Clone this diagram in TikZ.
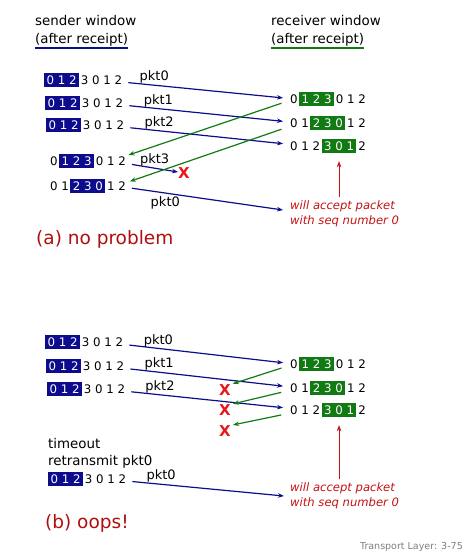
\documentclass[tikz,border=0pt]{standalone}
\usepackage{fontspec}
\setmainfont{DejaVu Sans}
\usepackage{xcolor}
\usetikzlibrary{positioning,arrows.meta}

\definecolor{sndblue}{RGB}{12,12,140}
\definecolor{rcvgreen}{RGB}{18,122,18}
\definecolor{lossred}{RGB}{232,24,24}
\definecolor{notered}{RGB}{196,18,18}
\definecolor{capred}{RGB}{176,14,14}
\definecolor{footgray}{RGB}{125,125,125}

\begin{document}
\begin{tikzpicture}[
  x=1pt, y=-1pt,
  >={Stealth[length=6pt,width=4.5pt]},
  hdr/.style={inner sep=0pt, font=\fontsize{13.4}{16}\selectfont},
  num/.style={inner sep=0pt, font=\fontsize{11.8}{14}\selectfont},
  swin/.style={num, fill=sndblue, text=white, minimum height=14pt, inner xsep=2.4pt},
  rwin/.style={num, fill=rcvgreen, text=white, minimum height=14pt, inner xsep=2.4pt},
  pkt/.style={inner sep=1pt, text=black, font=\fontsize{13}{15}\selectfont},
  lost/.style={text=lossred, inner sep=0pt, font=\fontsize{15}{15}\selectfont\bfseries},
  note/.style={text=notered, align=left, inner sep=0pt, font=\fontsize{11.6}{15}\selectfont\itshape},
  caption/.style={text=capred, inner sep=0pt, font=\fontsize{18.5}{20}\selectfont},
  data/.style={->, sndblue, line width=1.2pt, shorten <=6pt, shorten >=7pt},
  ack/.style={->, rcvgreen, line width=1.2pt, shorten <=9pt, shorten >=4pt},
  accept/.style={->, notered, line width=0.8pt, shorten <=3pt, shorten >=8pt},
]
\useasboundingbox (0,0) rectangle (474,555);

% Headers
\node[hdr, anchor=base west] (sndtop) at (35,25) {sender window};
\node[hdr, anchor=base west] (sndsub) at (35,43) {(after receipt)};
\node[hdr, anchor=base west] (rcvtop) at (271,25) {receiver window};
\node[hdr, anchor=base west] (rcvsub) at (271,43) {(after receipt)};
\draw[sndblue, line width=2pt] ([yshift=-2pt]sndsub.south west) -- ([yshift=-2pt]sndsub.south east);
\draw[rcvgreen, line width=2pt] ([yshift=-2pt]rcvsub.south west) -- ([yshift=-2pt]rcvsub.south east);

%%% (a) no problem

% Sender windows
\node[swin, anchor=west] (a1w) at (44,80) {0 1 2};
\node[num, right=1.5pt of a1w] (a1) {3 0 1 2};
\node[swin, anchor=west] (a2w) at (45,103) {0 1 2};
\node[num, right=1.5pt of a2w] (a2) {3 0 1 2};
\node[swin, anchor=west] (a3w) at (46,125) {0 1 2};
\node[num, right=1.5pt of a3w] (a3) {3 0 1 2};
\node[num, anchor=west] (a4pre) at (50,161) {0};
\node[swin, right=1pt of a4pre] (a4w) {1 2 3};
\node[num, right=1.5pt of a4w] (a4) {0 1 2};
\node[num, anchor=west] (a5pre) at (50,186) {0 1};
\node[swin, right=1pt of a5pre] (a5w) {2 3 0};
\node[num, right=1.5pt of a5w] (a5) {1 2};

% Receiver windows
\node[num, anchor=west] (ra1pre) at (290,99) {0};
\node[rwin, right=1pt of ra1pre] (ra1w) {1 2 3};
\node[num, right=1.5pt of ra1w] (ra1) {0 1 2};
\node[num, anchor=west] (ra2pre) at (290,123) {0 1};
\node[rwin, right=1pt of ra2pre] (ra2w) {2 3 0};
\node[num, right=1.5pt of ra2w] (ra2) {1 2};
\node[num, anchor=west] (ra3pre) at (290,146) {0 1 2};
\node[rwin, right=1pt of ra3pre] (ra3w) {3 0 1};
\node[num, right=1.5pt of ra3w] (ra3) {2};

% Lost packet and accept note
\node[lost] (xa) at (184,173) {X};
\coordinate (aend) at (283,210);
\node[note, anchor=north west] (acca) at (290,200) {will accept packet\\with seq number 0};

% Packets
\draw[data] (a1) -- (ra1pre) node[pkt, pos=0.19, above] (la1) {pkt0};
\draw[data] (a2) -- (ra2pre) node[pkt, pos=0.21, above] (la2) {pkt1};
\draw[data] (a3) -- (ra3pre) node[pkt, pos=0.21, above] (la3) {pkt2};
\draw[data, shorten >=0pt] (a4) -- (xa) node[pkt, pos=0.55, above] (la4) {pkt3};
\draw[data, shorten >=0pt] (a5) -- (aend) node[pkt, pos=0.25, below=2pt] (la5) {pkt0};

% Acks
\draw[ack] (ra1pre) -- (a4);
\draw[ack] (ra2pre) -- (a5);

\draw[accept] (acca.north -| ra3w) -- (ra3w.south);

\node[caption, anchor=base west] (capa) at (36,244) {(a) no problem};

%%% (b) oops!

% Sender windows
\node[swin, anchor=west] (b1w) at (45,342) {0 1 2};
\node[num, right=1.5pt of b1w] (b1) {3 0 1 2};
\node[swin, anchor=west] (b2w) at (46,366) {0 1 2};
\node[num, right=1.5pt of b2w] (b2) {3 0 1 2};
\node[swin, anchor=west] (b3w) at (47,389) {0 1 2};
\node[num, right=1.5pt of b3w] (b3) {3 0 1 2};
\node[hdr, anchor=base west] (tmo) at (48,448) {timeout};
\node[hdr, anchor=base west] (rtx) at (48,465) {retransmit pkt0};
\node[swin, anchor=west] (b4w) at (48,479) {0 1 2};
\node[num, right=1.5pt of b4w] (b4) {3 0 1 2};

% Receiver windows
\node[num, anchor=west] (rb1pre) at (290,364) {0};
\node[rwin, right=1pt of rb1pre] (rb1w) {1 2 3};
\node[num, right=1.5pt of rb1w] (rb1) {0 1 2};
\node[num, anchor=west] (rb2pre) at (290,388) {0 1};
\node[rwin, right=1pt of rb2pre] (rb2w) {2 3 0};
\node[num, right=1.5pt of rb2w] (rb2) {1 2};
\node[num, anchor=west] (rb3pre) at (290,410) {0 1 2};
\node[rwin, right=1pt of rb3pre] (rb3w) {3 0 1};
\node[num, right=1.5pt of rb3w] (rb3) {2};

% Lost acks and accept note
\node[lost] (xb1) at (225,390) {X};
\node[lost] (xb2) at (225,410) {X};
\node[lost] (xb3) at (225,431) {X};
\coordinate (bend) at (284,496);
\node[note, anchor=north west] (accb) at (290,482) {will accept packet\\with seq number 0};

% Packets
\draw[data] (b1) -- (rb1pre) node[pkt, pos=0.21, above] (lb1) {pkt0};
\draw[data] (b2) -- (rb2pre) node[pkt, pos=0.21, above] (lb2) {pkt1};
\draw[data] (b3) -- (rb3pre) node[pkt, pos=0.21, above] (lb3) {pkt2};
\draw[data, shorten >=0pt] (b4) -- (bend) node[pkt, pos=0.22, above] (lb4) {pkt0};

% Acks
\draw[ack, shorten >=2pt] (rb1pre) -- (xb1.north east);
\draw[ack, shorten >=2pt] (rb2pre) -- (xb2.north east);
\draw[ack, shorten >=2pt] (rb3pre) -- (xb3.north east);

\draw[accept] (accb.north -| rb3w) -- (rb3w.south);

\node[caption, anchor=base west] (capb) at (45,528) {(b) oops!};

% Footer
\node[anchor=base east, inner sep=0pt, text=footgray, font=\fontsize{9.5}{11}\selectfont] (foot) at (463,549) {Transport Layer: 3-75};

\end{tikzpicture}
\end{document}
